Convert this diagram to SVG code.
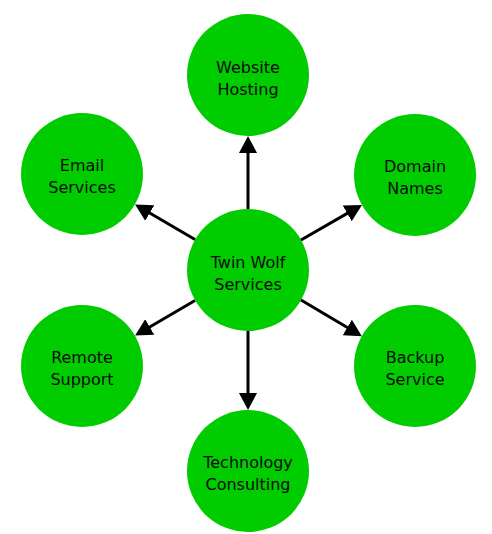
<svg xmlns="http://www.w3.org/2000/svg" width="492" height="534" viewBox="0 0 492 534">
<style>
.n{fill:#00cc00}
.t{font-family:"DejaVu Sans",Verdana,sans-serif;font-size:16px;fill:#0a0a0a;text-anchor:middle}
.c{stroke:#000;stroke-width:3;fill:none;marker-end:url(#ah)}
</style>
<defs>
<marker id="ah" markerUnits="userSpaceOnUse" markerWidth="18" markerHeight="18" refX="4" refY="9" orient="auto">
<path d="M0,0 L17,9 L0,18 z" fill="#000"/>
</marker>
</defs>
<rect width="492" height="534" fill="#fff"/>
<g id="center"><circle class="n" cx="248" cy="270" r="61"/><text class="t" x="248" y="268">Twin Wolf</text><text class="t" x="248" y="290">Services</text></g>
<g id="website"><circle class="n" cx="248" cy="75" r="61"/><text class="t" x="248" y="73">Website</text><text class="t" x="248" y="95">Hosting</text></g>
<g id="email"><circle class="n" cx="82" cy="174" r="61"/><text class="t" x="82" y="171">Email</text><text class="t" x="82" y="193">Services</text></g>
<g id="domain"><circle class="n" cx="415" cy="175" r="61"/><text class="t" x="415" y="172">Domain</text><text class="t" x="415" y="194">Names</text></g>
<g id="remote"><circle class="n" cx="82" cy="366" r="61"/><text class="t" x="82" y="363">Remote</text><text class="t" x="82" y="385">Support</text></g>
<g id="backup"><circle class="n" cx="415" cy="366" r="61"/><text class="t" x="415" y="363">Backup</text><text class="t" x="415" y="385">Service</text></g>
<g id="technology"><circle class="n" cx="248" cy="471" r="61"/><text class="t" x="248" y="468">Technology</text><text class="t" x="248" y="490">Consulting</text></g>
<g id="connectors">
<line class="c" x1="248" y1="209" x2="248" y2="149"/>
<line class="c" x1="248" y1="331" x2="248" y2="397"/>
<line class="c" x1="301" y1="240" x2="350.7" y2="211.4"/>
<line class="c" x1="195" y1="239.5" x2="146.3" y2="211"/>
<line class="c" x1="195" y1="300.5" x2="146.3" y2="329"/>
<line class="c" x1="301" y1="300" x2="350.7" y2="329.5"/>
</g>
</svg>
